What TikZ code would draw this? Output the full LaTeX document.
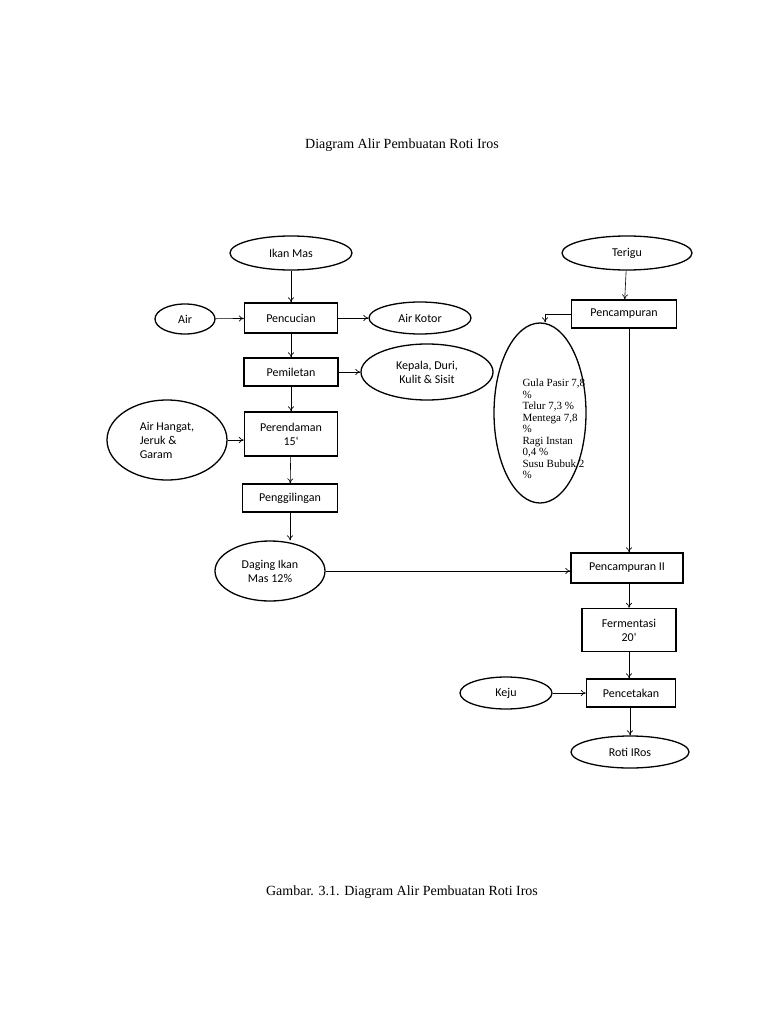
\documentclass[tikz,border=0pt]{standalone}
\usepackage{fontspec}
\setmainfont{Liberation Serif}
\newfontfamily\boxfont{Carlito}
\usetikzlibrary{shapes.geometric,arrows.meta}
\begin{document}
\begin{tikzpicture}[x=1pt,y=-1pt,
 box/.style={draw,line width=1.3pt,minimum height=28pt,inner sep=2pt,font=\boxfont\fontsize{12}{14}\selectfont,align=center},
 ell/.style={draw,ellipse,line width=1.3pt,inner sep=0pt,font=\boxfont\fontsize{12}{14}\selectfont,align=center},
 arr/.style={-{To[length=5pt,width=6pt]},line width=0.6pt}]
\useasboundingbox (0,0) rectangle (768,1024);
\node[font=\fontsize{14}{16}\selectfont] (title) at (402,145) {Diagram Alir Pembuatan Roti Iros};
\node[font=\fontsize{14}{16}\selectfont] (cap) at (402,892) {Gambar. 3.1. Diagram Alir Pembuatan Roti Iros};
\node[ell,minimum width=122pt,minimum height=34pt] (ikan) at (291,253) {Ikan Mas};
\node[ell,minimum width=130pt,minimum height=34pt] (terigu) at (627,253) {Terigu};
\node[ell,minimum width=60pt,minimum height=30pt] (air) at (185,319) {Air};
\node[box,minimum width=93pt,minimum height=30pt] (cuci) at (291,318) {Pencucian};
\node[ell,minimum width=102pt,minimum height=32pt] (kotor) at (420,318) {Air Kotor};
\node[box,minimum width=105pt] (campur) at (624,314) {Pencampuran};
\node[box,minimum width=94pt] (milet) at (291,372) {Pemiletan};
\node[ell,minimum width=132pt,minimum height=56pt] (kepala) at (427,372) {Kepala, Duri,\\Kulit \& Sisit};
\node[ell,minimum width=120pt,minimum height=80pt,align=left] (hangat) at (167,440) {Air Hangat,\\Jeruk \&\\Garam};
\node[box,minimum width=93pt,minimum height=44pt] (rendam) at (291,434) {Perendaman\\15'};
\node[ell,minimum width=92pt,minimum height=180pt] (bahan) at (540,413) {};
\node[anchor=west,align=left,font=\fontsize{11}{11.5}\selectfont] (btext) at (519,429) {Gula Pasir 7,8\\\%\\Telur 7,3 \%\\Mentega 7,8\\\%\\Ragi Instan\\0,4 \%\\Susu Bubuk 2\\\%};
\node[box,minimum width=95pt] (giling) at (290,498) {Penggilingan};
\node[ell,minimum width=110pt,minimum height=60pt] (daging) at (270,571) {Daging Ikan\\Mas 12\%};
\node[box,minimum width=112pt,minimum height=30pt] (campur2) at (627,568) {Pencampuran II};
\node[box,minimum width=94pt,minimum height=43pt] (ferm) at (629,630) {Fermentasi\\20'};
\node[ell,minimum width=92pt,minimum height=32pt] (keju) at (506,693) {Keju};
\node[box,minimum width=89pt] (cetak) at (631,693) {Pencetakan};
\node[ell,minimum width=118pt,minimum height=32pt] (roti) at (630,752) {Roti IRos};
\coordinate (bend) at (545,314);
\draw[arr] (ikan) -- (cuci);
\draw[arr] (air) -- (cuci);
\draw[arr] (cuci) -- (kotor);
\draw[arr] (cuci) -- (milet);
\draw[arr] (milet) -- (kepala);
\draw[arr] (milet) -- (rendam);
\draw[arr] (hangat) -- (rendam.west|-hangat);
\draw[arr] (rendam) -- (giling);
\draw[arr] (giling.south) -- (daging.north-|giling.south);
\draw[arr] (daging) -- (campur2.west|-daging);
\draw[arr] (terigu) -- (campur);
\draw[arr] (campur.west) -- (bend) -- (bend|-bahan.north);
\draw[arr] (campur.south-|ferm) -- (campur2.north-|ferm);
\draw[arr] (campur2.south-|ferm) -- (ferm);
\draw[arr] (ferm) -- (cetak.north-|ferm);
\draw[arr] (keju) -- (cetak);
\draw[arr] (cetak.south-|roti) -- (roti);
\end{tikzpicture}
\end{document}
